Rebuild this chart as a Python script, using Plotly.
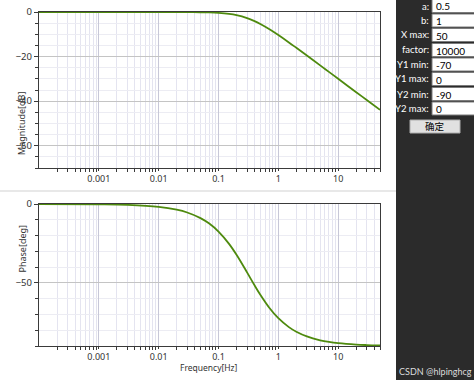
import plotly.graph_objects as go

# ---- data ----
freq_hz = [0.0001, 0.001, 0.003, 0.01, 0.02, 0.03, 0.05, 0.07, 0.1, 0.15, 0.2, 0.3, 0.4,
           0.5, 0.7, 1, 1.5, 2, 3, 5, 7, 10, 20, 30, 50]
magnitude_db = [0.0, 0.0, 0.0, -0.004, -0.017, -0.038, -0.106, -0.205, -0.409, -0.872, -1.447,
                -2.765, -4.12, -5.41, -7.67, -10.37, -13.66, -16.08, -19.54, -23.95, -26.86,
                -29.96, -35.97, -39.49, -43.93]
phase_deg = [-0.018, -0.18, -0.54, -1.8, -3.6, -5.39, -8.94, -12.4, -17.46, -25.25, -32.17,
             -43.33, -51.52, -57.54, -65.57, -72.36, -78.03, -80.97, -83.95, -86.36, -87.40,
             -88.18, -89.09, -89.39, -89.64]
x_tick_vals = [0.001, 0.01, 0.1, 1, 10]
x_tick_text = ["0.001", "0.01", "0.1", "1", "10"]
panel_labels = ["a:", "b:", "X max:", "factor:", "Y1 min:", "Y1 max:", "Y2 min:", "Y2 max:"]
panel_values = ["0.5", "1", "50", "10000", "-70", "0", "-90", "0"]
button_text = "确定"
watermark = "CSDN @hlpinghcg"

W, H = 474, 380
def px(x): return x / W
def py(y): return 1 - y / H

LINE = "#4e8a0e"
FONT = "Noto Sans"
PFONT = "Lato"

minor_vals = [m * 10 ** e for e in range(-4, 2) for m in range(2, 10) if m * 10 ** e <= 50]

fig = go.Figure()
fig.add_trace(go.Scatter(x=freq_hz, y=magnitude_db, mode="lines", line=dict(color=LINE, width=1.8, shape="spline"),
                         xaxis="x", yaxis="y", showlegend=False, cliponaxis=False, hoverinfo="skip"))
fig.add_trace(go.Scatter(x=freq_hz, y=phase_deg, mode="lines", line=dict(color=LINE, width=1.8, shape="spline"),
                         xaxis="x2", yaxis="y2", showlegend=False, cliponaxis=False, hoverinfo="skip"))

def xax(anchor):
    return dict(type="log", range=[-4, 1.69897], domain=[px(39), px(380)], anchor=anchor,
                tickmode="array", tickvals=x_tick_vals, ticktext=x_tick_text, automargin=False,
                showline=True, mirror=True, linecolor="#3a3a3a", linewidth=1.2,
                ticks="outside", ticklen=2, tickcolor="#3a3a3a",
                showgrid=True, gridcolor="#c8c8d8", gridwidth=1, zeroline=False,
                tickfont=dict(family=FONT, size=9, color="#333333"),
                minor=dict(tickmode="array", tickvals=minor_vals, ticks="outside", ticklen=3,
                           tickcolor="#3a3a3a", showgrid=True, gridcolor="#e4e4f0", gridwidth=1))

def yax(anchor, dom, rng, dt, mdt):
    return dict(range=rng, domain=dom, anchor=anchor, dtick=dt, tick0=0, automargin=False,
                showline=True, mirror=True, linecolor="#3a3a3a", linewidth=1.2,
                ticks="outside", ticklen=4, tickcolor="#3a3a3a",
                showgrid=True, gridcolor="#c4c4c4", gridwidth=1, zeroline=False,
                tickfont=dict(family=FONT, size=9.5, color="#333333"),
                minor=dict(dtick=mdt, tick0=0, ticks="outside", ticklen=2.5, tickcolor="#3a3a3a",
                           showgrid=True, gridcolor="#ececf3", gridwidth=1))

fig.update_layout(
    width=W, height=H, margin=dict(l=0, r=0, t=0, b=0, pad=0, autoexpand=False),
    paper_bgcolor="white", plot_bgcolor="white", hovermode=False,
    xaxis=xax("y"), yaxis=yax("x", [py(168), py(12)], [-70, 0], 20, 5),
    xaxis2=xax("y2"), yaxis2=yax("x2", [py(346), py(204)], [-90, 0], 50, 10),
)

shapes = []
anns = []
# separator between the two plots
shapes.append(dict(type="line", xref="paper", yref="paper", x0=0, x1=px(396), y0=py(191), y1=py(191),
                   line=dict(color="#e8e8e8", width=2)))
# dark side panel
shapes.append(dict(type="rect", xref="paper", yref="paper", x0=px(396), x1=1, y0=0, y1=1,
                   fillcolor="#2b2b2b", line=dict(width=0), layer="above"))
row_y = [6, 20.5, 35, 50, 64.5, 79, 94, 108.5]
for lab, val, ry in zip(panel_labels, panel_values, row_y):
    shapes.append(dict(type="rect", xref="paper", yref="paper", x0=px(432), x1=px(476),
                       y0=py(ry + 6.5), y1=py(ry - 6.5), fillcolor="white",
                       line=dict(color="#7a7a7a", width=1), layer="above"))
    anns.append(dict(x=px(431), y=py(ry), xref="paper", yref="paper", text=lab, showarrow=False,
                     xanchor="right", yanchor="middle", font=dict(family=PFONT, size=9.5, color="white")))
    anns.append(dict(x=px(434), y=py(ry + 0.5), xref="paper", yref="paper", text=val, showarrow=False,
                     xanchor="left", yanchor="middle", font=dict(family=PFONT, size=10, color="black")))
shapes.append(dict(type="rect", xref="paper", yref="paper", x0=px(410), x1=px(460), y0=py(133), y1=py(120),
                   fillcolor="#e1e1e1", line=dict(color="#adadad", width=1), layer="above"))
anns.append(dict(x=px(435), y=py(126.5), xref="paper", yref="paper", text=button_text, showarrow=False,
                 xanchor="center", yanchor="middle", font=dict(family="Noto Sans CJK SC", size=9.5, color="black")))
anns.append(dict(x=px(473.5), y=py(371), xref="paper", yref="paper", text=watermark, showarrow=False,
                 xanchor="right", yanchor="middle", font=dict(family=PFONT, size=9, color="#dcdcdc")))
# axis titles
anns.append(dict(x=px(13), y=py(90), xref="paper", yref="paper", text="Magnitude[dB]", showarrow=False,
                 textangle=-90, font=dict(family=FONT, size=9, color="#333333")))
anns.append(dict(x=px(13), y=py(275), xref="paper", yref="paper", text="Phase[deg]", showarrow=False,
                 textangle=-90, font=dict(family=FONT, size=9, color="#333333")))
anns.append(dict(x=px(209), y=py(374.5), xref="paper", yref="paper", text="Frequency[Hz]", showarrow=False,
                 font=dict(family=FONT, size=8.5, color="#333333")))
fig.update_layout(shapes=shapes, annotations=anns)

fig.write_html("out.html", config={"displayModeBar": False},
               post_script="document.body.style.margin='0';document.body.style.overflow='hidden';")
